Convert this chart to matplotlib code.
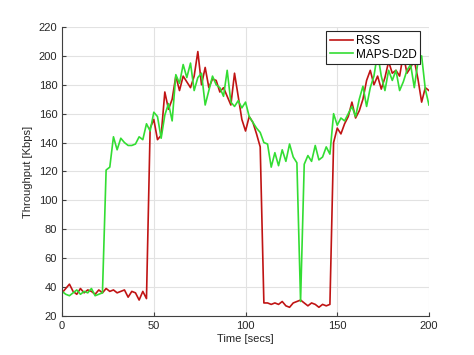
import matplotlib.pyplot as plt
import numpy as np

time = np.arange(0, 201, 2)

rss = [36, 39, 42, 37, 35, 39, 36, 38, 37, 35,
       38, 36, 39, 37, 38, 36, 37, 38, 33, 37,
       36, 31, 37, 32, 150, 156, 142, 145, 175, 163,
       170, 186, 176, 186, 182, 178, 186, 203, 180, 192,
       178, 184, 183, 175, 178, 172, 166, 188, 172, 156,
       148, 158, 154, 146, 137, 29, 29, 28, 29, 28,
       30, 27, 26, 29, 30, 31, 29, 27, 29, 28,
       26, 28, 27, 28, 140, 150, 146, 153, 158, 168,
       157, 162, 170, 183, 190, 180, 186, 177, 185, 196,
       188, 190, 186, 201, 188, 192, 197, 184, 168, 178,
       176]

maps_d2d = [37, 35, 34, 36, 38, 35, 37, 36, 39, 34,
            35, 36, 121, 123, 144, 135, 143, 140, 138, 138,
            139, 144, 142, 153, 148, 161, 158, 143, 159, 167,
            155, 187, 181, 194, 185, 195, 176, 185, 188, 166,
            176, 186, 180, 178, 172, 190, 168, 165, 169, 164,
            168, 158, 154, 150, 147, 140, 139, 123, 133, 124,
            135, 127, 139, 130, 126, 30, 125, 131, 127, 138,
            128, 130, 137, 132, 160, 152, 157, 155, 160, 165,
            158, 170, 179, 165, 178, 186, 202, 186, 176, 190,
            183, 190, 176, 182, 190, 194, 178, 196, 200, 177,
            166]

COLOR_RSS = '#c01414'
COLOR_MAPS = '#33dd33'
COLOR_AXIS = '#404040'

plt.rcParams['font.family'] = ['Liberation Sans', 'DejaVu Sans']

fig = plt.figure(figsize=(4.74, 3.55), dpi=100)
ax = fig.add_axes([0.131, 0.110, 0.774, 0.814])

ax.plot(time, rss, color=COLOR_RSS, linewidth=1.2, label='RSS')
ax.plot(time, maps_d2d, color=COLOR_MAPS, linewidth=1.2, label='MAPS-D2D')

ax.set_xlim(0, 200)
ax.set_ylim(20, 220)
ax.set_xticks(np.arange(0, 201, 50))
ax.set_yticks(np.arange(20, 221, 20))
ax.grid(True, color='#e2e2e2', linewidth=0.8)
ax.set_axisbelow(True)

# MATLAB-like axes: box off, inward ticks
for side in ['top', 'right']:
    ax.spines[side].set_visible(False)
for side in ['left', 'bottom']:
    ax.spines[side].set_color(COLOR_AXIS)
    ax.spines[side].set_linewidth(0.8)
ax.tick_params(direction='in', length=3, width=0.8, color=COLOR_AXIS,
               labelsize=8, labelcolor='#262626')

ax.set_xlabel('Time [secs]', fontsize=8, color='#262626', labelpad=2)
ax.set_ylabel('Throughput [Kbps]', fontsize=8, color='#262626', labelpad=4)

leg = ax.legend(loc='upper right', bbox_to_anchor=(0.975, 0.985), fontsize=8.5,
                fancybox=False, framealpha=1, edgecolor='#262626',
                handlelength=2.0, borderpad=0.3, labelspacing=0.15,
                handletextpad=0.2, borderaxespad=0)
leg.get_frame().set_linewidth(0.8)

plt.savefig('out.png', dpi=100)
